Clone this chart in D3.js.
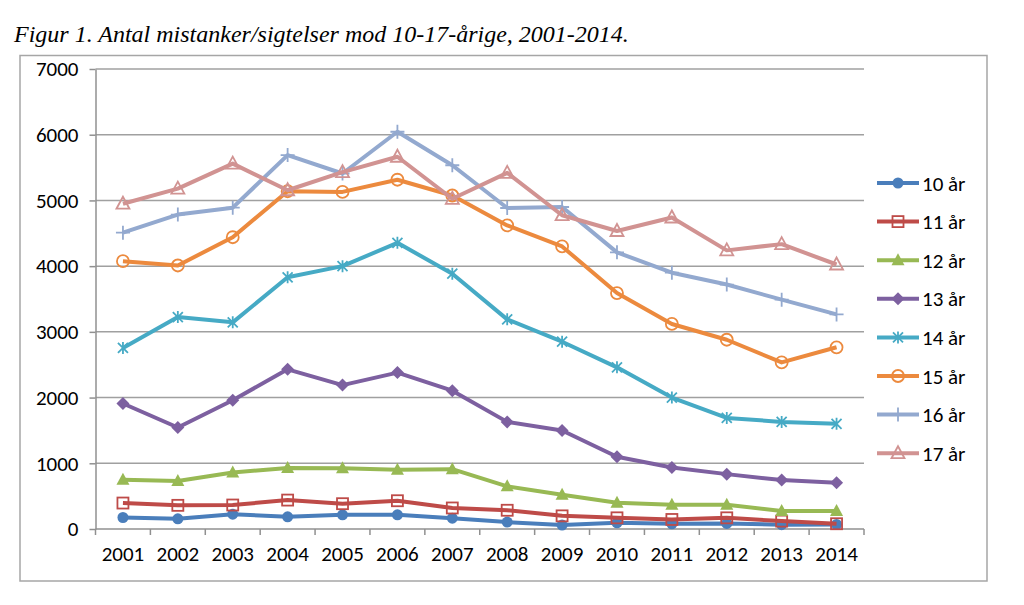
<!DOCTYPE html>
<html>
<head>
<meta charset="utf-8">
<script src="https://cdn.jsdelivr.net/npm/d3@7"></script>
<style>
  body { margin: 0; background: #fff; }
  text { font-family: Carlito, Calibri, "Open Sans", "DejaVu Sans", sans-serif; }
</style>
</head>
<body>
<div id="chart"></div>
<script>
// Data
var years = ["2001","2002","2003","2004","2005","2006","2007","2008","2009","2010","2011","2012","2013","2014"];
var seriesNames = ["10 år","11 år","12 år","13 år","14 år","15 år","16 år","17 år"];
var age10 = [175, 155, 225, 185, 215, 215, 165, 105, 60, 95, 80, 85, 65, 70];
var age11 = [395, 360, 365, 440, 385, 430, 320, 285, 200, 170, 145, 170, 120, 80];
var age12 = [750, 730, 860, 930, 925, 900, 910, 650, 520, 400, 370, 370, 275, 275];
var age13 = [1910, 1545, 1960, 2430, 2190, 2380, 2105, 1630, 1500, 1100, 935, 835, 745, 705];
var age14 = [2755, 3225, 3145, 3830, 4000, 4355, 3885, 3190, 2850, 2460, 2000, 1690, 1630, 1600];
var age15 = [4075, 4010, 4440, 5140, 5130, 5315, 5075, 4620, 4300, 3590, 3120, 2880, 2535, 2765];
var age16 = [4510, 4785, 4890, 5690, 5410, 6045, 5535, 4885, 4900, 4210, 3900, 3720, 3490, 3265];
var age17 = [4950, 5180, 5560, 5155, 5430, 5665, 5025, 5420, 4775, 4535, 4740, 4240, 4335, 4025];
var yTicks = [0, 1000, 2000, 3000, 4000, 5000, 6000, 7000];

var allValues = [age10, age11, age12, age13, age14, age15, age16, age17];
var colors = ["#4A7EBB", "#BE4B48", "#98B954", "#7D60A0", "#46AAC5", "#EC8A3E", "#93A9CF", "#D19392"];
var markerTypes = ["circle", "square", "triangle", "diamond", "asterisk", "ocircle", "plus", "otriangle"];

var svg = d3.select("#chart").append("svg")
  .attr("width", 1024)
  .attr("height", 605);

// Title
svg.append("text")
  .attr("x", 14)
  .attr("y", 42)
  .style("font-family", "'Liberation Serif', 'Times New Roman', serif")
  .style("font-style", "italic")
  .style("font-size", "24px")
  .text("Figur 1. Antal mistanker/sigtelser mod 10-17-årige, 2001-2014.");

// Chart frame
svg.append("rect")
  .attr("x", 20).attr("y", 55.5)
  .attr("width", 967).attr("height", 525.5)
  .attr("fill", "none")
  .attr("stroke", "#a6a6a6")
  .attr("stroke-width", 1.5);

var plot = {left: 95.5, right: 864, top: 69, bottom: 529};

var x = d3.scaleBand()
  .domain(years)
  .range([plot.left, plot.right]);

var y = d3.scaleLinear()
  .domain([0, 7000])
  .range([plot.bottom, plot.top]);

// Gridlines
svg.append("g")
  .selectAll("line")
  .data(yTicks.filter(function(d) { return d > 0; }))
  .enter().append("line")
  .attr("x1", plot.left).attr("x2", plot.right)
  .attr("y1", function(d) { return y(d); })
  .attr("y2", function(d) { return y(d); })
  .attr("stroke", "#a0a0a0")
  .attr("stroke-width", 1.5);

// Y axis
var yAxis = svg.append("g")
  .attr("transform", "translate(" + plot.left + ",0)")
  .call(d3.axisLeft(y).tickValues(yTicks).tickFormat(d3.format("d"))
    .tickSize(6).tickPadding(11).tickSizeOuter(0));
yAxis.selectAll("text").style("font-size", "21px").attr("fill", "#000");
yAxis.selectAll("line").attr("stroke", "#909090").attr("stroke-width", 1.5);
yAxis.select(".domain").attr("stroke", "#909090").attr("stroke-width", 1.5);

// X axis: ticks at band boundaries
var xAxis = svg.append("g")
  .attr("transform", "translate(0," + plot.bottom + ")");
xAxis.append("line")
  .attr("x1", plot.left).attr("x2", plot.right)
  .attr("stroke", "#909090").attr("stroke-width", 1.5);
xAxis.selectAll(".tk")
  .data(years.concat(["end"]))
  .enter().append("line")
  .attr("x1", function(d, i) { return plot.left + i * x.step(); })
  .attr("x2", function(d, i) { return plot.left + i * x.step(); })
  .attr("y1", 0).attr("y2", 6)
  .attr("stroke", "#909090").attr("stroke-width", 1.5);
xAxis.selectAll(".lbl")
  .data(years)
  .enter().append("text")
  .attr("x", function(d) { return x(d) + x.bandwidth() / 2; })
  .attr("y", 32)
  .attr("text-anchor", "middle")
  .style("font-size", "21px")
  .text(function(d) { return d; });

// Marker drawing
function drawMarker(g, type, color) {
  if (type == "circle") {
    g.append("circle").attr("r", 5.5).attr("fill", color);
  } else if (type == "square") {
    g.append("rect").attr("x", -5.5).attr("y", -5.5).attr("width", 11).attr("height", 11)
      .attr("fill", "none").attr("stroke", color).attr("stroke-width", 1.8);
  } else if (type == "triangle") {
    g.append("path").attr("d", "M0,-7L6.5,5L-6.5,5Z").attr("fill", color);
  } else if (type == "diamond") {
    g.append("path").attr("d", "M0,-6.5L6.5,0L0,6.5L-6.5,0Z").attr("fill", color);
  } else if (type == "asterisk") {
    g.append("path").attr("d", "M-5,-5L5,5M-5,5L5,-5M0,-6L0,6")
      .attr("stroke", color).attr("stroke-width", 1.8);
  } else if (type == "ocircle") {
    g.append("circle").attr("r", 6).attr("fill", "none").attr("stroke", color).attr("stroke-width", 1.8);
  } else if (type == "plus") {
    g.append("path").attr("d", "M0,-7L0,7M-7,0L7,0").attr("stroke", color).attr("stroke-width", 1.8);
  } else if (type == "otriangle") {
    g.append("path").attr("d", "M0,-7L6.5,5L-6.5,5Z").attr("fill", "none")
      .attr("stroke", color).attr("stroke-width", 1.8);
  }
}

var line = d3.line()
  .x(function(d, i) { return x(years[i]) + x.bandwidth() / 2; })
  .y(function(d) { return y(d); });

// Draw series
allValues.forEach(function(vals, s) {
  var g = svg.append("g");
  g.append("path")
    .datum(vals)
    .attr("d", line)
    .attr("fill", "none")
    .attr("stroke", colors[s])
    .attr("stroke-width", 4)
    .attr("stroke-linejoin", "round");
  vals.forEach(function(v, i) {
    var m = g.append("g")
      .attr("transform", "translate(" + (x(years[i]) + x.bandwidth() / 2) + "," + y(v) + ")");
    drawMarker(m, markerTypes[s], colors[s]);
  });
});

// Legend
var legend = svg.selectAll(".legend")
  .data(seriesNames)
  .enter().append("g")
  .attr("class", "legend")
  .attr("transform", function(d, i) { return "translate(877," + (183 + i * 38.6) + ")"; });
legend.append("line")
  .attr("x1", 0).attr("x2", 42)
  .attr("stroke", function(d, i) { return colors[i]; })
  .attr("stroke-width", 4);
legend.each(function(d, i) {
  var m = d3.select(this).append("g").attr("transform", "translate(21,0)");
  drawMarker(m, markerTypes[i], colors[i]);
});
legend.append("text")
  .attr("x", 45)
  .attr("y", 7.5)
  .style("font-size", "21px")
  .text(function(d) { return d; });
</script>
</body>
</html>
